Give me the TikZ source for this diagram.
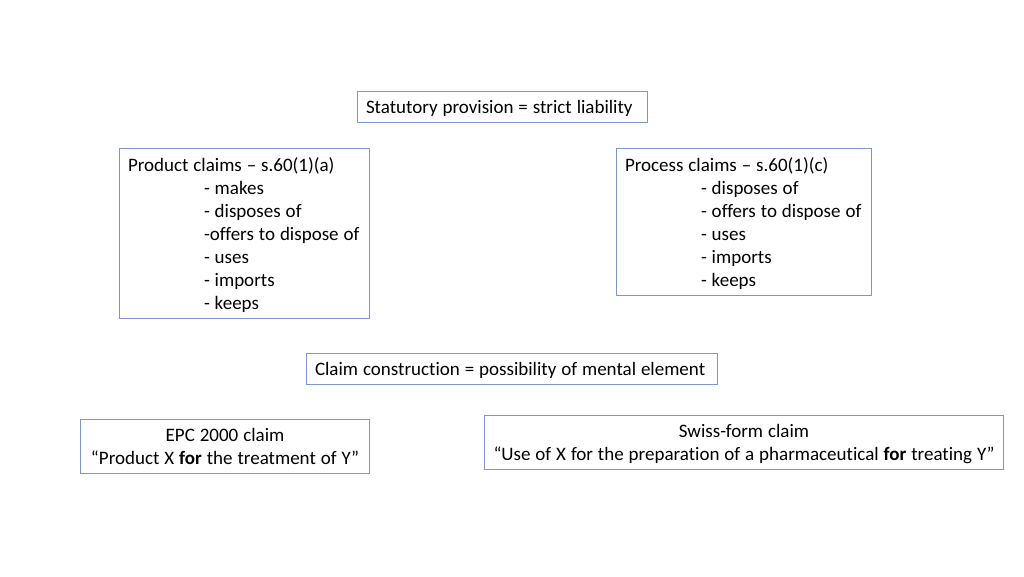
\documentclass[tikz,border=0pt]{standalone}
\usepackage{fontspec}
\setmainfont{Carlito}[Ligatures=NoCommon,WordSpace=1.15]
\definecolor{boxblue}{RGB}{125,150,205}
\tikzset{
  box/.style={draw=boxblue, line width=1pt, rectangle, anchor=north west, inner xsep=8.5pt, inner ysep=0pt, font=\fontsize{19}{23}\selectfont, text=black, execute at begin node={\spaceskip=0pt\xspaceskip=0pt\relax}},
}
\begin{document}
\begin{tikzpicture}[x=1pt,y=-1pt]
\useasboundingbox[fill=white] (0,0) rectangle (1024,576);
\node[box, minimum width=290pt, minimum height=31pt, text width=273pt, text height=12pt, text depth=0pt, align=left] (stat) at (357,91) {Statutory provision = strict liability};
\node[box, minimum width=250pt, minimum height=170pt, text width=233pt, align=left] (prod) at (119,148) {\rule{0pt}{18pt}Product claims – s.60(1)(a)\\
\hspace*{76pt}- makes\\
\hspace*{76pt}- disposes of\\
\hspace*{76pt}-offers to dispose of\\
\hspace*{76pt}- uses\\
\hspace*{76pt}- imports\\
\hspace*{76pt}- keeps};
\node[box, minimum width=255pt, minimum height=147pt, text width=238pt, align=left] (proc) at (616,148) {\rule{0pt}{18pt}Process claims – s.60(1)(c)\\
\hspace*{76pt}- disposes of\\
\hspace*{76pt}- offers to dispose of\\
\hspace*{76pt}- uses\\
\hspace*{76pt}- imports\\
\hspace*{76pt}- keeps};
\node[box, minimum width=411pt, minimum height=31pt, text width=394pt, text height=12pt, text depth=0pt, align=left] (cons) at (306,353) {Claim construction = possibility of mental element};
\node[box, minimum width=289pt, minimum height=54pt, align=center] (epc) at (80,419) {EPC 2000 claim\\“Product X \textbf{for} the treatment of Y”};
\node[box, minimum width=519pt, minimum height=54pt, align=center] (swiss) at (484,415) {\rule{0pt}{16pt}Swiss-form claim\\“Use of X for the preparation of a pharmaceutical \textbf{for} treating Y”};
\end{tikzpicture}
\end{document}
